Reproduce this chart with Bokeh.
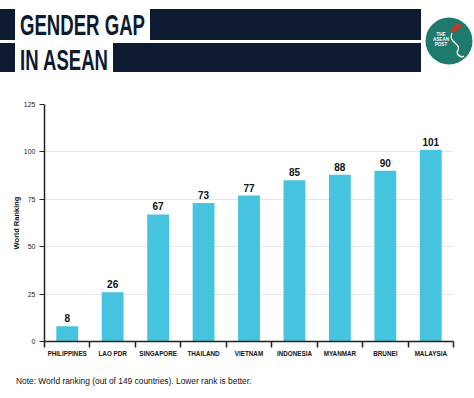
from bokeh.plotting import figure
from bokeh.models import Range1d, LinearAxis, FixedTicker, ColumnDataSource, LabelSet, Div
from bokeh.layouts import column
from bokeh.embed import file_html
from bokeh.resources import INLINE
from bokeh.core.properties import value

# ---------------- data ----------------
countries = ["PHILIPPINES", "LAO PDR", "SINGAPORE", "THAILAND", "VIETNAM",
             "INDONESIA", "MYANMAR", "BRUNEI", "MALAYSIA"]
rankings = [8, 26, 67, 73, 77, 85, 88, 90, 101]
y_ticks = [0, 25, 50, 75, 100, 125]
title_lines = ["GENDER GAP", "IN ASEAN"]
y_label = "World Ranking"
note = "Note: World ranking (out of 149 countries). Lower rank is better."
logo_lines = ["THE", "ASEAN", "POST"]

NAVY = "#0e1a2f"
BAR = "#45c3df"
TEAL = "#1d7a6c"
W = 474

# ---------------- header (inline SVG) ----------------
header_svg = f"""
<svg xmlns="http://www.w3.org/2000/svg" width="{W}" height="88" style="display:block">
  <rect x="0" y="9" width="15" height="31" fill="{NAVY}"/>
  <rect x="150" y="9" width="271" height="31" fill="{NAVY}"/>
  <rect x="0" y="43" width="15" height="29" fill="{NAVY}"/>
  <rect x="113" y="43" width="308" height="29" fill="{NAVY}"/>
  <text x="20" y="35" font-family="DejaVu Sans" font-weight="bold" font-size="30"
        textLength="125" lengthAdjust="spacingAndGlyphs" fill="{NAVY}">{title_lines[0]}</text>
  <text x="20" y="70" font-family="DejaVu Sans" font-weight="bold" font-size="30"
        textLength="88" lengthAdjust="spacingAndGlyphs" fill="{NAVY}">{title_lines[1]}</text>
  <circle cx="449" cy="41" r="23.5" fill="{TEAL}"/>
  <path d="M450 30 L457 23 L463 26 L458 29 L455 33 Z" fill="#c0392b"/>
  <path d="M452 33 C447 42, 462 44, 458 50 C455 55, 462 58, 464 56" fill="none"
        stroke="white" stroke-width="1.3"/>
  <text x="441" y="36" text-anchor="middle" font-family="DejaVu Serif" font-weight="bold"
        font-size="4.6" fill="white">{logo_lines[0]}</text>
  <text x="441" y="41" text-anchor="middle" font-family="DejaVu Serif" font-weight="bold"
        font-size="4.6" fill="white">{logo_lines[1]}</text>
  <text x="441" y="46" text-anchor="middle" font-family="DejaVu Serif" font-weight="bold"
        font-size="4.6" fill="white">{logo_lines[2]}</text>
</svg>"""
header = Div(text=header_svg, width=W, height=88, margin=0)

# ---------------- chart ----------------
n = len(countries)
pos = [i + 0.5 for i in range(n)]
src = ColumnDataSource(dict(x=pos, v=rankings, t=[str(r) for r in rankings]))

p = figure(width=W, height=280, x_range=Range1d(0, n), y_range=Range1d(0, 125),
           x_axis_type=None, toolbar_location=None, output_backend="svg",
           min_border_left=44, min_border_right=21, min_border_top=16, min_border_bottom=27,
           margin=0)
p.outline_line_color = None
p.xgrid.visible = False
p.ygrid.grid_line_color = "#e6e6e6"
p.ygrid.ticker = FixedTicker(ticks=y_ticks)

p.vbar(x="x", top="v", width=0.48, source=src, fill_color=BAR, line_color=None)
p.add_layout(LabelSet(x="x", y="v", text="t", source=src, y_offset=4, text_align="center",
                      text_baseline="bottom", text_font=value("Liberation Sans"),
                      text_font_style="bold", text_font_size="10px", text_color="#111111"))

ya = p.yaxis[0]
ya.ticker = FixedTicker(ticks=y_ticks)
ya.axis_line_color = "#222222"
ya.axis_line_width = 1.5
ya.major_tick_line_color = "#222222"
ya.major_tick_line_width = 1.2
ya.major_tick_out = 5
ya.major_tick_in = 0
ya.minor_tick_line_color = None
ya.major_label_text_font = "Liberation Sans"
ya.major_label_text_font_size = "7px"
ya.major_label_text_color = "#222222"
ya.major_label_standoff = 4
ya.axis_label = y_label
ya.axis_label_text_font = "Liberation Sans"
ya.axis_label_text_font_style = "bold"
ya.axis_label_text_font_size = "7.5px"
ya.axis_label_text_color = "#111111"
ya.axis_label_standoff = 0

xa = LinearAxis(ticker=FixedTicker(ticks=pos, minor_ticks=list(range(0, n + 1))),
                major_label_overrides={pp: c for pp, c in zip(pos, countries)})
xa.axis_line_color = "#222222"
xa.axis_line_width = 1.5
xa.major_tick_line_color = None
xa.major_tick_out = 6
xa.major_tick_in = 0
xa.minor_tick_line_color = "#222222"
xa.minor_tick_line_width = 1.5
xa.minor_tick_out = 6
xa.minor_tick_in = 0
xa.major_label_standoff = 2
xa.major_label_text_font = "Liberation Sans"
xa.major_label_text_font_style = "bold"
xa.major_label_text_font_size = "6.3px"
xa.major_label_text_color = "#111111"
p.add_layout(xa, "below")

# ---------------- footer (inline SVG) ----------------
footer_svg = f"""
<svg xmlns="http://www.w3.org/2000/svg" width="{W}" height="30" style="display:block">
  <text x="16" y="16" font-family="Liberation Sans" font-size="8.4" fill="#111111">{note}</text>
</svg>"""
footer = Div(text=footer_svg, width=W, height=30, margin=0)

layout = column(header, p, footer, spacing=0)
open("out.html", "w").write(file_html(layout, INLINE))
